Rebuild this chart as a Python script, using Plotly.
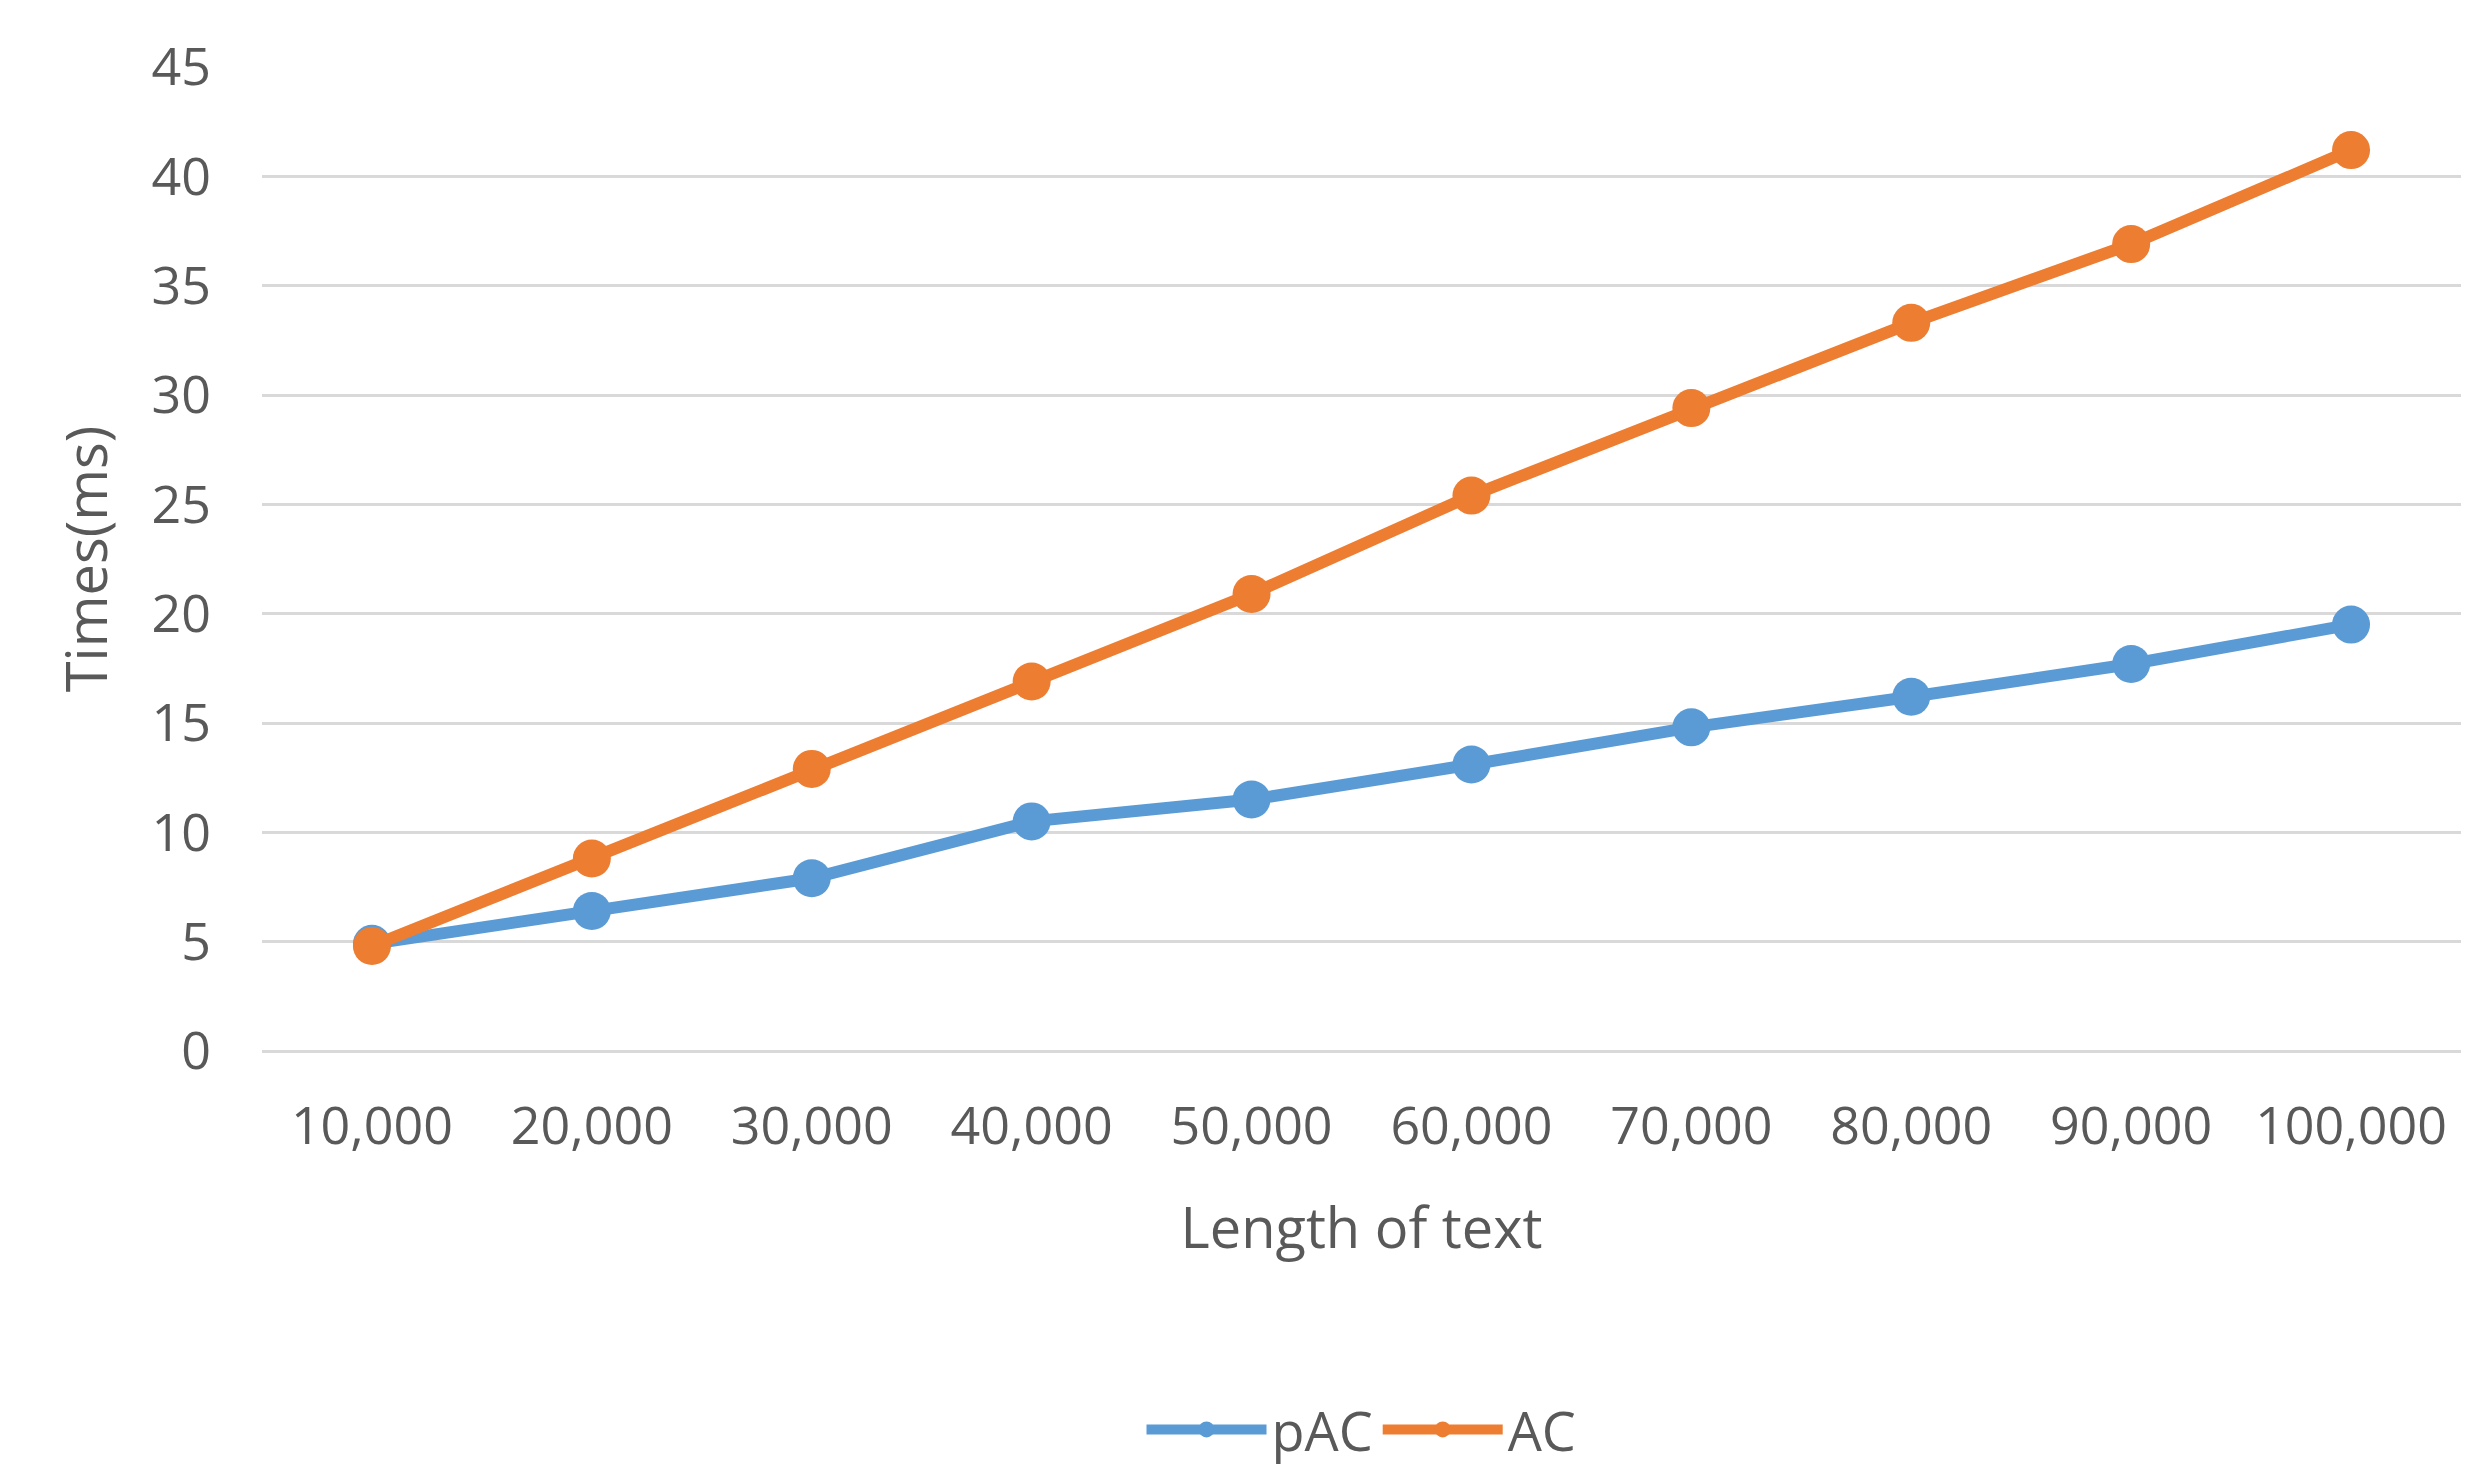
import plotly.graph_objects as go

categories = ["10,000","20,000","30,000","40,000","50,000","60,000","70,000","80,000","90,000","100,000"]
pac = [4.9, 6.4, 7.9, 10.5, 11.5, 13.1, 14.8, 16.2, 17.7, 19.5]
ac = [4.8, 8.8, 12.9, 16.9, 20.9, 25.4, 29.4, 33.3, 36.9, 41.2]

fig = go.Figure()
fig.add_trace(go.Scatter(x=categories, y=pac, name="pAC", mode="lines+markers",
    line=dict(color="#5B9BD5", width=12), marker=dict(size=38, color="#5B9BD5")))
fig.add_trace(go.Scatter(x=categories, y=ac, name="AC", mode="lines+markers",
    line=dict(color="#ED7D31", width=12), marker=dict(size=38, color="#ED7D31")))

fig.update_layout(
    width=2477, height=1477, paper_bgcolor="white", plot_bgcolor="white",
    margin=dict(l=254, r=24, t=59, b=434),
    font=dict(family="Open Sans", color="#595959", size=50),
    xaxis=dict(type="category", range=[-0.5, 9.5], showgrid=False, showline=False,
               ticks="", tickfont=dict(size=52), ticklabelstandoff=40,
               title=dict(text="Length of text", font=dict(size=56), standoff=50)),
    yaxis=dict(range=[0, 45], dtick=5, showgrid=True, gridcolor="#D9D9D9", gridwidth=3,
               zeroline=True, zerolinecolor="#D9D9D9", zerolinewidth=3, ticks="",
               tickfont=dict(size=52), ticklabelstandoff=50,
               title=dict(text="Times(ms)", font=dict(size=56), standoff=25)),
    legend=dict(orientation="h", x=0.5, xanchor="center", y=-0.385, yanchor="middle",
                font=dict(size=54), itemwidth=120),
    showlegend=True,
)
fig.write_html("out.html")
